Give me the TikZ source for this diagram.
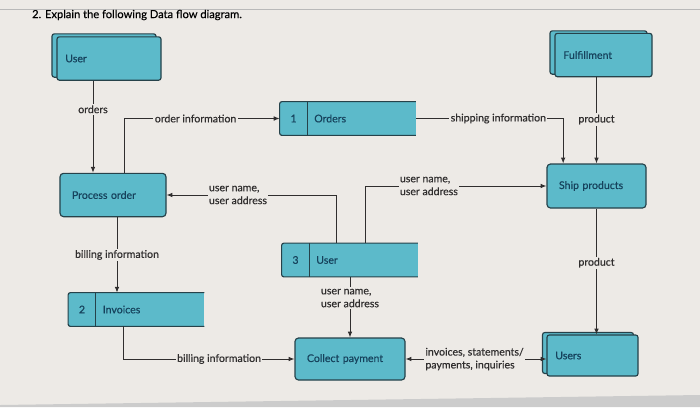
\documentclass[tikz,border=0pt]{standalone}
\usepackage{fontspec}
\setmainfont{Lato}
\newfontfamily\dfdfont{Lato}[FakeBold=0.4]
\usetikzlibrary{arrows.meta}
\definecolor{paper}{RGB}{237,234,230}
\definecolor{boxfill}{RGB}{92,186,202}
\definecolor{boxedge}{RGB}{38,66,74}
\definecolor{boxtext}{RGB}{22,66,92}
\definecolor{ink}{RGB}{48,46,46}
\begin{document}
\begin{tikzpicture}[x=0.03cm, y=-0.03cm, >={Latex[length=5pt,width=4pt]}]
    % Define styles
    \tikzstyle{entity} = [draw=boxedge, fill=boxfill, line width=1pt, rounded corners=2pt, minimum height=1.3cm, inner xsep=0.25cm, align=left, text=boxtext, font=\dfdfont\fontsize{9}{11}\selectfont]
    \tikzstyle{process} = [draw=boxedge, fill=boxfill, line width=1pt, rounded corners=3pt, minimum height=1.3cm, inner xsep=0.36cm, align=left, text=boxtext, font=\dfdfont\fontsize{9}{11}\selectfont]
    \tikzstyle{storeid} = [fill=boxfill, minimum width=0.82cm, minimum height=1.0cm, inner sep=0pt, text=boxtext, font=\dfdfont\fontsize{9}{11}\selectfont]
    \tikzstyle{storename} = [fill=boxfill, minimum height=1.0cm, text width=2.84cm, inner xsep=0.2cm, align=left, text=boxtext, font=\dfdfont\fontsize{9}{11}\selectfont]
    \tikzstyle{storeline} = [draw=boxedge, line width=1pt, rounded corners=2pt]
    \tikzstyle{flow} = [->, draw=ink, line width=0.8pt]
    \tikzstyle{lbl} = [fill=paper, inner sep=1.2pt, text=ink, align=left, font=\dfdfont\fontsize{9}{11}\selectfont]

    % Page
    \fill[paper] (0,0) rectangle (700,407);
    \useasboundingbox (0,0) rectangle (700,407);
    \draw[gray!55] (0,9) -- (700,9);
    \fill[gray!40] (0,405) -- (700,395) -- (700,407) -- (0,407) -- cycle;
    \node[anchor=west, text=black, font=\dfdfont\fontsize{9.5}{12}\selectfont] (title) at (28,15) {2. Explain the following Data flow diagram.};

    % External entities
    \node[entity, minimum width=3.12cm, text width=2.62cm] (userback) at (104,55.5) {};
    \node[entity, minimum width=3.12cm, text width=2.62cm] (user) at (109,58.5) {User};
    \node[entity, minimum width=2.91cm, text width=2.41cm] (fulback) at (598.5,52.5) {};
    \node[entity, minimum width=2.91cm, text width=2.41cm] (ful) at (603.5,55) {Fulfillment};
    \node[entity, minimum width=2.73cm, minimum height=1.23cm, text width=2.23cm] (usersback) at (588,353) {};
    \node[entity, minimum width=2.73cm, minimum height=1.23cm, text width=2.23cm] (users) at (592.5,355.5) {Users};

    % Processes
    \node[process, minimum width=3.18cm, text width=2.46cm] (proc) at (113,195) {Process order};
    \node[process, minimum width=2.97cm, minimum height=1.32cm, text width=2.25cm] (ship) at (596.5,186) {Ship products};
    \node[process, minimum width=3.3cm, minimum height=1.26cm, text width=2.58cm] (collect) at (350,359) {Collect payment};

    % Data stores
    \node[storeid] (s1) at (293.5,118.5) {1};
    \node[storename, anchor=west] (orders) at (s1.east) {Orders};
    \node[storeid] (s3) at (295.5,260) {3};
    \node[storename, anchor=west] (usr) at (s3.east) {User};
    \node[storeid] (s2) at (82,309.5) {2};
    \node[storename, anchor=west] (inv) at (s2.east) {Invoices};
    \draw[storeline] (orders.north east) -- (s1.north west) -- (s1.south west) -- (orders.south east);
    \draw[storeline] (s1.north east) -- (s1.south east);
    \draw[storeline] (usr.north east) -- (s3.north west) -- (s3.south west) -- (usr.south east);
    \draw[storeline] (s3.north east) -- (s3.south east);
    \draw[storeline] (inv.north east) -- (s2.north west) -- (s2.south west) -- (inv.south east);
    \draw[storeline] (s2.north east) -- (s2.south east);

    % Data flows
    \draw[flow] ([xshift=-0.48cm]user.south) -- ([xshift=-0.48cm]user.south |- proc.north) node[lbl, pos=0.31] {orders};
    \draw[flow] ([xshift=0.33cm]proc.north) |- (s1.west) node[lbl, pos=0.73] {order information};
    \draw[flow] (orders.east) -| ([xshift=-1.0cm]ship.north) node[lbl, pos=0.28] {shipping information};
    \draw[flow] (ship.north |- ful.south) -- (ship.north) node[lbl, pos=0.49] {product};
    \draw[flow] ([xshift=-0.81cm]usr.north) |- (proc.east) node[lbl, pos=0.79] {user name,\\user address};
    \draw[flow] ([xshift=0.06cm]usr.north) |- (ship.west) node[lbl, pos=0.675] {user name,\\user address};
    \draw[flow] ([xshift=0.12cm]proc.south) -- ([xshift=0.12cm]proc.south |- inv.north) node[lbl, pos=0.5] {billing information};
    \draw[flow] ([xshift=-0.81cm]inv.south) |- (collect.west) node[lbl, pos=0.78] {billing information};
    \draw[flow] (usr.south -| collect.north) -- (collect.north) node[lbl, pos=0.35] {user name,\\user address};
    \draw[flow, <->] (collect.east) -- (collect.east -| users.west) node[lbl, pos=0.49] {invoices, statements/\\payments, inquiries};
    \draw[flow] (ship.south) -- (ship.south |- users.north) node[lbl, pos=0.43] {product};
\end{tikzpicture}
\end{document}
